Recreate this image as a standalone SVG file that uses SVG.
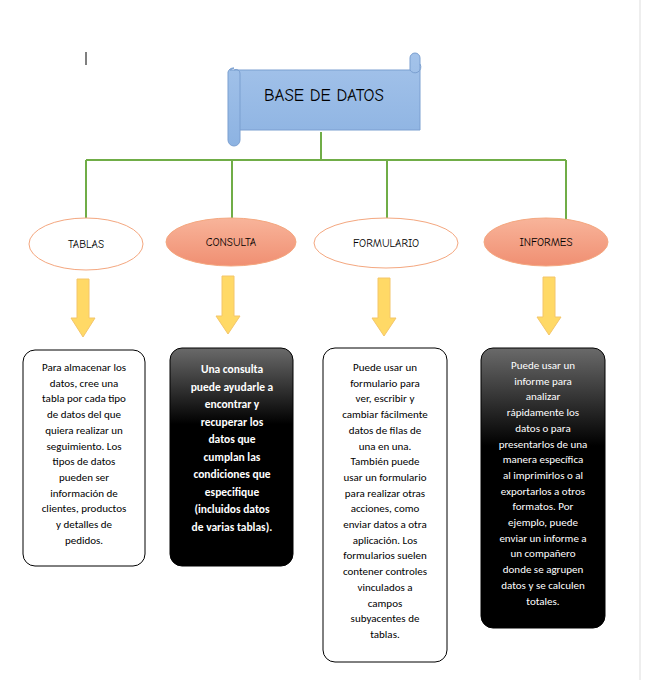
<svg xmlns="http://www.w3.org/2000/svg" width="648" height="680" viewBox="0 0 648 680">
<defs>
<style>
.t{font-family:"Comic Neue","DejaVu Sans","Liberation Sans",sans-serif;text-anchor:middle}
.b{font-family:Calibri,"Liberation Sans",sans-serif;font-size:11px;text-anchor:middle}
.w{fill:#fff;font-weight:bold;font-size:11.5px}
.ln{stroke:#70ad47;stroke-width:2;fill:none}
.arr{fill:#ffd966;stroke:#f4c66a;stroke-width:1}
</style>
<linearGradient id="sc" x1="0" y1="0" x2="0" y2="1"><stop offset="0" stop-color="#a4c3ea"/><stop offset="1" stop-color="#8db3e2"/></linearGradient>
<linearGradient id="or" x1="0" y1="0" x2="0" y2="1"><stop offset="0" stop-color="#f8b49a"/><stop offset="1" stop-color="#f08f72"/></linearGradient>
<linearGradient id="bk" x1="0" y1="0" x2="0" y2="1"><stop offset="0" stop-color="#6a6a6a"/><stop offset="0.35" stop-color="#000"/><stop offset="1" stop-color="#000"/></linearGradient>
<linearGradient id="ar" x1="0" y1="0" x2="0" y2="1"><stop offset="0" stop-color="#ffe8a8"/><stop offset="1" stop-color="#ffc83d"/></linearGradient>
</defs>
<rect width="648" height="680" fill="#fff"/>
<line x1="640" y1="0" x2="640" y2="680" stroke="#ddd"/>
<line x1="86" y1="52" x2="86" y2="65" stroke="#000"/>
<g id="connectors">
<path class="ln" d="M321 132 V160 M86 160 H566 M86 160 V228 M232 160 V218 M387 160 V218 M566 160 V220"/>
</g>
<g id="base">
<path d="M230 70 H410 V58 a5 5 0 0 1 10 0 V130 H240 V140 a6 6 0 0 1 -12 0 V72 a6 6 0 0 1 6 -4 Z" fill="url(#sc)" stroke="#7a9fd0"/>
<path d="M410 70 a5 5 0 0 0 10 -6 M234 70 a4 4 0 0 1 6 4 V130" fill="none" stroke="#7a9fd0"/>
<text class="t" x="324" y="101" font-size="17">BASE DE DATOS</text>
</g>
<g id="tablas"><ellipse cx="86" cy="244" rx="57" ry="26" fill="#fff" stroke="#f4a77f"/><text class="t" x="86" y="248" font-size="11">TABLAS</text></g>
<g id="consulta"><ellipse cx="231" cy="242" rx="65" ry="24" fill="url(#or)" stroke="#f4a77f"/><text class="t" x="231" y="246" font-size="11">CONSULTA</text></g>
<g id="formulario"><ellipse cx="386" cy="243" rx="72" ry="25" fill="#fff" stroke="#f4a77f"/><text class="t" x="386" y="247" font-size="11">FORMULARIO</text></g>
<g id="informes"><ellipse cx="546" cy="242" rx="62" ry="24" fill="url(#or)" stroke="#f4a77f"/><text class="t" x="546" y="246" font-size="11">INFORMES</text></g>
<g id="arrows">
<path class="arr" fill="url(#ar)" d="M77 279 H89 V318 H95 L83 337 L71 318 H77 Z"/>
<path class="arr" fill="url(#ar)" d="M222 276 H234 V316 H240 L228 334 L216 316 H222 Z"/>
<path class="arr" fill="url(#ar)" d="M378 278 H390 V318 H396 L384 336 L372 318 H378 Z"/>
<path class="arr" fill="url(#ar)" d="M543 277 H555 V317 H561 L549 335 L537 317 H543 Z"/>
</g>
<g id="box1"><rect x="23" y="350" width="122" height="216" rx="12" fill="#fff" stroke="#000"/>
<text class="b" y="371"><tspan x="84">Para almacenar los</tspan><tspan x="84" dy="15.7">datos, cree una</tspan><tspan x="84" dy="15.7">tabla por cada tipo</tspan><tspan x="84" dy="15.7">de datos del que</tspan><tspan x="84" dy="15.7">quiera realizar un</tspan><tspan x="84" dy="15.7">seguimiento. Los</tspan><tspan x="84" dy="15.7">tipos de datos</tspan><tspan x="84" dy="15.7">pueden ser</tspan><tspan x="84" dy="15.7">información de</tspan><tspan x="84" dy="15.7">clientes, productos</tspan><tspan x="84" dy="15.7">y detalles de</tspan><tspan x="84" dy="15.7">pedidos.</tspan></text></g>
<g id="box2"><rect x="170" y="348" width="123" height="218" rx="12" fill="url(#bk)" stroke="#000"/>
<text class="b w" y="373"><tspan x="232">Una consulta</tspan><tspan x="232" dy="17.5">puede ayudarle a</tspan><tspan x="232" dy="17.5">encontrar y</tspan><tspan x="232" dy="17.5">recuperar los</tspan><tspan x="232" dy="17.5">datos que</tspan><tspan x="232" dy="17.5">cumplan las</tspan><tspan x="232" dy="17.5">condiciones que</tspan><tspan x="232" dy="17.5">especifique</tspan><tspan x="232" dy="17.5">(incluidos datos</tspan><tspan x="232" dy="17.5">de varias tablas).</tspan></text></g>
<g id="box3"><rect x="323" y="348" width="124" height="314" rx="12" fill="#fff" stroke="#000"/>
<text class="b" y="371"><tspan x="385">Puede usar un</tspan><tspan x="385" dy="15.7">formulario para</tspan><tspan x="385" dy="15.7">ver, escribir y</tspan><tspan x="385" dy="15.7">cambiar fácilmente</tspan><tspan x="385" dy="15.7">datos de filas de</tspan><tspan x="385" dy="15.7">una en una.</tspan><tspan x="385" dy="15.7">También puede</tspan><tspan x="385" dy="15.7">usar un formulario</tspan><tspan x="385" dy="15.7">para realizar otras</tspan><tspan x="385" dy="15.7">acciones, como</tspan><tspan x="385" dy="15.7">enviar datos a otra</tspan><tspan x="385" dy="15.7">aplicación. Los</tspan><tspan x="385" dy="15.7">formularios suelen</tspan><tspan x="385" dy="15.7">contener controles</tspan><tspan x="385" dy="15.7">vinculados a</tspan><tspan x="385" dy="15.7">campos</tspan><tspan x="385" dy="15.7">subyacentes de</tspan><tspan x="385" dy="15.7">tablas.</tspan></text></g>
<g id="box4"><rect x="481" y="348" width="124" height="280" rx="12" fill="url(#bk)" stroke="#000"/>
<text class="b" fill="#fff" y="369"><tspan x="543">Puede usar un</tspan><tspan x="543" dy="15.7">informe para</tspan><tspan x="543" dy="15.7">analizar</tspan><tspan x="543" dy="15.7">rápidamente los</tspan><tspan x="543" dy="15.7">datos o para</tspan><tspan x="543" dy="15.7">presentarlos de una</tspan><tspan x="543" dy="15.7">manera específica</tspan><tspan x="543" dy="15.7">al imprimirlos o al</tspan><tspan x="543" dy="15.7">exportarlos a otros</tspan><tspan x="543" dy="15.7">formatos. Por</tspan><tspan x="543" dy="15.7">ejemplo, puede</tspan><tspan x="543" dy="15.7">enviar un informe a</tspan><tspan x="543" dy="15.7">un compañero</tspan><tspan x="543" dy="15.7">donde se agrupen</tspan><tspan x="543" dy="15.7">datos y se calculen</tspan><tspan x="543" dy="15.7">totales.</tspan></text></g>
</svg>
